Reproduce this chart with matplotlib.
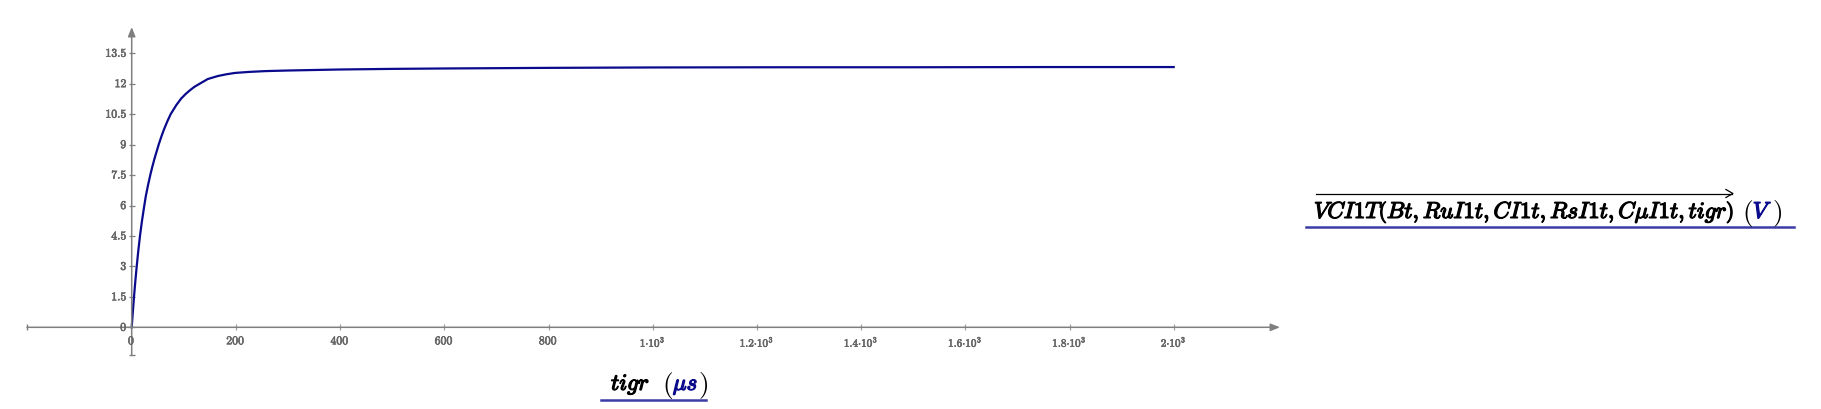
import matplotlib
matplotlib.use("Agg")
import matplotlib.pyplot as plt
import matplotlib.patheffects as pe

plt.rcParams['mathtext.fontset'] = 'cm'

# ---- data ----
t_us = [0, 2.0, 4.4, 6.9, 9.6, 12.6, 15.9, 19.5, 23.6, 27, 31.3, 36.4, 40, 44, 51.8, 57, 62,
        68.5, 74.8, 85.7, 95, 103, 111, 120, 130.5, 146, 165.6, 181, 198, 225, 256, 300,
        400, 500, 600, 800, 1000, 1250, 1500, 1750, 2000]
v_V = [0, 0.7, 1.5, 2.25, 3.0, 3.75, 4.5, 5.2, 5.9, 6.45, 7.0, 7.58, 7.95, 8.33, 9.0, 9.4, 9.75,
       10.15, 10.5, 10.95, 11.27, 11.48, 11.66, 11.84, 12.0, 12.23, 12.38, 12.46, 12.53, 12.58,
       12.62, 12.65, 12.7, 12.73, 12.75, 12.78, 12.8, 12.81, 12.81, 12.82, 12.82]
y_ticks = [0, 1.5, 3, 4.5, 6, 7.5, 9, 10.5, 12, 13.5]
y_tick_labels = ["0", "1.5", "3", "4.5", "6", "7.5", "9", "10.5", "12", "13.5"]
x_ticks = [0, 200, 400, 600, 800, 1000, 1200, 1400, 1600, 1800, 2000]
x_tick_labels = ["0", "200", "400", "600", "800",
                 r"1{\cdot}10^{3}", r"1.2{\cdot}10^{3}", r"1.4{\cdot}10^{3}",
                 r"1.6{\cdot}10^{3}", r"1.8{\cdot}10^{3}", r"2{\cdot}10^{3}"]
y_label_main = r"$VCI1T\left(Bt,RuI1t,CI1t,RsI1t,C\mu I1t,tigr\right)$"
y_label_unit = r"$V$"
x_label_main = r"$tigr$"
x_label_unit = r"$\mu s$"

W, H = 1821, 410
fig = plt.figure(figsize=(W / 100, H / 100), dpi=100)
ax = fig.add_axes([0, 0, 1, 1])
ax.set_axis_off()

# pixel mapping: x_px = 131.7 + 0.521 t ; y_px(top) = 328.3 - 20.3 V
x0px, sx = 131.7, 0.521
y0px, sy = 328.3, 20.3
ax.set_xlim(-x0px / sx, (W - x0px) / sx)
ax.set_ylim((y0px - H) / sy, y0px / sy)

axis_col = "#7f7f7f"
tick_col = "#666666"
curve_col = "#0a0a8c"
uline_col = "#3c3ca8"

# axes with arrows
ax.annotate("", xy=(2204, 0), xytext=(-201, 0),
            arrowprops=dict(arrowstyle="-|>,head_length=0.55,head_width=0.22",
                            color=axis_col, lw=1.1, shrinkA=0, shrinkB=0))
ax.annotate("", xy=(0, 14.79), xytext=(0, -1.36),
            arrowprops=dict(arrowstyle="-|>,head_length=0.55,head_width=0.22",
                            color=axis_col, lw=1.1, shrinkA=0, shrinkB=0))
ax.plot([-201], [0], marker="|", ms=5, color=axis_col, mew=1.0)
ax.plot([0], [-1.36], marker="_", ms=5, color=axis_col, mew=1.0)

# ticks
ax.plot(x_ticks[1:], [0] * (len(x_ticks) - 1), ls="none", marker="|", ms=4.5,
        color="#a0a0a0", mew=0.9)
ax.plot([0] * len(y_ticks), y_ticks, ls="none", marker="_", ms=4.5,
        color=axis_col, mew=0.9)

tick_fx = [pe.withStroke(linewidth=0.45, foreground=tick_col)]
for v, lab in zip(y_ticks, y_tick_labels):
    ax.annotate(r"$\mathbf{%s}$" % lab, xy=(0, v), xytext=(-4, 0), textcoords="offset pixels",
                ha="right", va="center", fontsize=8.5, color=tick_col, path_effects=tick_fx)
for t, lab in zip(x_ticks, x_tick_labels):
    big = "cdot" in lab
    ax.annotate(r"$\mathbf{%s}$" % lab, xy=(t, 0), xytext=(0, -7), textcoords="offset pixels",
                ha="center", va="top", fontsize=8 if big else 8.5, color=tick_col,
                path_effects=tick_fx)

# curve
ax.plot(t_us, v_V, color=curve_col, lw=1.6, solid_joinstyle="round")

# ---- labels (pixel coordinates, top-origin) ----
fig.canvas.draw()
renderer = fig.canvas.get_renderer()


def place_seq(pieces, x_px, base_px, size):
    x = x_px
    for txt, col, bold, scale in pieces:
        if txt == " ":
            x += size * 0.35
            continue
        t = fig.text(x / W, 1 - (base_px + (1.5 if scale > 1 else 0)) / H, txt,
                     fontsize=size * scale, color=col, ha="left", va="baseline")
        if bold:
            t.set_path_effects([pe.withStroke(linewidth=0.9, foreground=col)])
        bb = t.get_window_extent(renderer)
        x += bb.width
    return x


size = 16.5
main_end = place_seq([(y_label_main, "black", True, 1.0)], 1314, 219, size)
ya = 194.5
fig.add_artist(plt.Line2D([1316 / W, (main_end - 2) / W], [1 - ya / H, 1 - ya / H],
                          color="black", lw=0.9))
fig.add_artist(plt.Line2D([(main_end - 8) / W, (main_end - 1) / W, (main_end - 8) / W],
                          [1 - (ya - 4) / H, 1 - ya / H, 1 - (ya + 4) / H],
                          color="black", lw=0.9))
place_seq([(" ", None, False, 1.0), (r"$($", "black", False, 1.2),
           (y_label_unit, "#0a0a8c", True, 1.0), (r"$)$", "black", False, 1.2)],
          main_end + 2, 219, size)
fig.add_artist(plt.Line2D([1306 / W, 1794 / W], [1 - 228 / H, 1 - 228 / H],
                          color=uline_col, lw=1.8))

# x label
place_seq([(x_label_main, "black", True, 1.0), (" ", None, False, 1.0),
           (" ", None, False, 1.0), (r"$($", "black", False, 1.2),
           (x_label_unit, "#0a0a8c", True, 1.0), (r"$)$", "black", False, 1.2)],
          611, 391, size)
fig.add_artist(plt.Line2D([601 / W, 706 / W], [1 - 400.7 / H, 1 - 400.7 / H],
                          color=uline_col, lw=1.8))

fig.savefig("out.png", dpi=100)
